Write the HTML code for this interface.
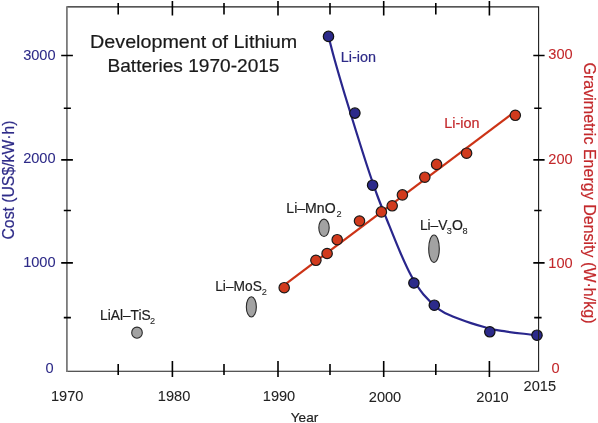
<!DOCTYPE html>
<html><head><meta charset="utf-8"><style>
html,body{margin:0;padding:0;background:#fff;width:598px;height:423px;overflow:hidden}
svg{display:block;will-change:transform}
text{font-family:"Liberation Sans",sans-serif}
</style></head><body>
<svg width="598" height="423" viewBox="0 0 598 423">
<rect width="598" height="423" fill="#fff"/>
<path d="M284.2,285.05 L515.3,111.4" stroke="#cc3316" stroke-width="2.2" fill="none"/>
<path d="M328.50,36.40 C330.57,44.27 331.97,50.23 334.70,60.00 C337.43,69.77 341.40,83.33 344.90,95.00 C348.40,106.67 352.05,118.33 355.70,130.00 C359.35,141.67 363.23,154.17 366.80,165.00 C370.37,175.83 373.73,185.83 377.10,195.00 C380.47,204.17 383.10,210.33 387.00,220.00 C390.90,229.67 396.42,243.62 400.50,253.00 C404.58,262.38 407.67,269.38 411.50,276.30 C415.33,283.22 418.85,288.95 423.50,294.50 C428.15,300.05 434.42,305.90 439.40,309.60 C444.38,313.30 448.13,314.45 453.40,316.70 C458.67,318.95 465.73,321.35 471.00,323.10 C476.27,324.85 480.17,325.93 485.00,327.20 C489.83,328.47 491.33,329.35 500.00,330.70 C508.67,332.05 524.67,333.77 537.00,335.30" stroke="#29268c" stroke-width="2.2" fill="none" stroke-linecap="round"/>
<circle cx="328.5" cy="36.4" r="5.2" fill="#2c2a8a" stroke="#111" stroke-width="1.2"/>
<circle cx="354.9" cy="113.1" r="5.2" fill="#2c2a8a" stroke="#111" stroke-width="1.2"/>
<circle cx="372.6" cy="185.2" r="5.2" fill="#2c2a8a" stroke="#111" stroke-width="1.2"/>
<circle cx="413.9" cy="283.0" r="5.2" fill="#2c2a8a" stroke="#111" stroke-width="1.2"/>
<circle cx="434.3" cy="305.2" r="5.2" fill="#2c2a8a" stroke="#111" stroke-width="1.2"/>
<circle cx="489.8" cy="331.8" r="5.2" fill="#2c2a8a" stroke="#111" stroke-width="1.2"/>
<circle cx="537.0" cy="335.2" r="5.2" fill="#2c2a8a" stroke="#111" stroke-width="1.2"/>
<circle cx="284.2" cy="287.7" r="5.2" fill="#d13a1d" stroke="#1a1a1a" stroke-width="1.2"/>
<circle cx="315.9" cy="260.3" r="5.2" fill="#d13a1d" stroke="#1a1a1a" stroke-width="1.2"/>
<circle cx="327.1" cy="253.5" r="5.2" fill="#d13a1d" stroke="#1a1a1a" stroke-width="1.2"/>
<circle cx="337.2" cy="239.7" r="5.2" fill="#d13a1d" stroke="#1a1a1a" stroke-width="1.2"/>
<circle cx="359.5" cy="221.0" r="5.2" fill="#d13a1d" stroke="#1a1a1a" stroke-width="1.2"/>
<circle cx="381.4" cy="211.9" r="5.2" fill="#d13a1d" stroke="#1a1a1a" stroke-width="1.2"/>
<circle cx="392.2" cy="205.8" r="5.2" fill="#d13a1d" stroke="#1a1a1a" stroke-width="1.2"/>
<circle cx="402.4" cy="194.9" r="5.2" fill="#d13a1d" stroke="#1a1a1a" stroke-width="1.2"/>
<circle cx="424.8" cy="177.2" r="5.2" fill="#d13a1d" stroke="#1a1a1a" stroke-width="1.2"/>
<circle cx="436.6" cy="164.4" r="5.2" fill="#d13a1d" stroke="#1a1a1a" stroke-width="1.2"/>
<circle cx="466.6" cy="153.2" r="5.2" fill="#d13a1d" stroke="#1a1a1a" stroke-width="1.2"/>
<circle cx="515.3" cy="115.3" r="5.2" fill="#d13a1d" stroke="#1a1a1a" stroke-width="1.2"/>
<ellipse cx="137.00" cy="332.70" rx="5.30" ry="5.60" fill="#a2a2a2" stroke="#2a2a2a" stroke-width="1.1"/>
<ellipse cx="251.35" cy="306.90" rx="5.00" ry="10.10" fill="#a2a2a2" stroke="#2a2a2a" stroke-width="1.1"/>
<ellipse cx="324.00" cy="227.80" rx="5.20" ry="8.70" fill="#a2a2a2" stroke="#2a2a2a" stroke-width="1.1"/>
<ellipse cx="434.00" cy="248.70" rx="5.30" ry="13.70" fill="#a2a2a2" stroke="#2a2a2a" stroke-width="1.1"/>
<path d="M66.9,6.9 H538.6 V371.3 H66.9" fill="none" stroke="#1e1e1e" stroke-width="1.1"/>
<line x1="66.9" y1="6.3" x2="66.9" y2="371.9" stroke="#7a7a7a" stroke-width="1.8"/>
<path d="M172.4,361 V377 M172.4,1 V15.5 M278.0,361 V377 M278.0,1 V15.5 M383.7,361 V377 M383.7,1 V15.5 M489.4,361 V377 M489.4,1 V15.5 M118.2,364 V375 M118.2,3 V14.4 M224.0,364 V375 M224.0,3 V14.4 M330.0,364 V375 M330.0,3 V14.4 M435.8,364 V375 M435.8,3 V14.4 M61.2,55.5 H72.9 M533.3,55.5 H544.6 M61.2,159.9 H72.9 M533.3,159.9 H544.6 M61.2,262.9 H72.9 M533.3,262.9 H544.6 M63.8,108.2 H70.9 M534.2,108.2 H541.6 M63.8,210.5 H70.9 M534.2,210.5 H541.6 M63.8,317.6 H70.9 M534.2,317.6 H541.6" stroke="#000" stroke-width="1.6" fill="none"/>
<text stroke="#2e2b88" stroke-width="0.08" x="55.60" y="59.80" font-size="14.60" fill="#2e2b88" text-anchor="end" font-family="Liberation Sans, sans-serif" >3000</text>
<text stroke="#2e2b88" stroke-width="0.08" x="55.60" y="163.00" font-size="14.60" fill="#2e2b88" text-anchor="end" font-family="Liberation Sans, sans-serif" >2000</text>
<text stroke="#2e2b88" stroke-width="0.08" x="55.60" y="266.60" font-size="14.60" fill="#2e2b88" text-anchor="end" font-family="Liberation Sans, sans-serif" >1000</text>
<text stroke="#2e2b88" stroke-width="0.08" x="53.60" y="373.00" font-size="14.60" fill="#2e2b88" text-anchor="end" font-family="Liberation Sans, sans-serif" >0</text>
<text stroke="#c3282b" stroke-width="0.08" x="548.30" y="58.80" font-size="14.60" fill="#c3282b" text-anchor="start" font-family="Liberation Sans, sans-serif" >300</text>
<text stroke="#c3282b" stroke-width="0.08" x="548.30" y="164.00" font-size="14.60" fill="#c3282b" text-anchor="start" font-family="Liberation Sans, sans-serif" >200</text>
<text stroke="#c3282b" stroke-width="0.08" x="548.30" y="267.60" font-size="14.60" fill="#c3282b" text-anchor="start" font-family="Liberation Sans, sans-serif" >100</text>
<text stroke="#c3282b" stroke-width="0.08" x="551.60" y="372.90" font-size="14.60" fill="#c3282b" text-anchor="start" font-family="Liberation Sans, sans-serif" >0</text>
<text stroke="#222" stroke-width="0.08" x="67.15" y="401.40" font-size="14.60" fill="#222" text-anchor="middle" font-family="Liberation Sans, sans-serif" >1970</text>
<text stroke="#222" stroke-width="0.08" x="174.10" y="401.40" font-size="14.60" fill="#222" text-anchor="middle" font-family="Liberation Sans, sans-serif" >1980</text>
<text stroke="#222" stroke-width="0.08" x="279.00" y="401.40" font-size="14.60" fill="#222" text-anchor="middle" font-family="Liberation Sans, sans-serif" >1990</text>
<text stroke="#222" stroke-width="0.08" x="385.00" y="402.20" font-size="14.60" fill="#222" text-anchor="middle" font-family="Liberation Sans, sans-serif" >2000</text>
<text stroke="#222" stroke-width="0.08" x="492.50" y="402.20" font-size="14.60" fill="#222" text-anchor="middle" font-family="Liberation Sans, sans-serif" >2010</text>
<text stroke="#222" stroke-width="0.08" x="539.80" y="390.90" font-size="14.60" fill="#222" text-anchor="middle" font-family="Liberation Sans, sans-serif" >2015</text>
<text stroke="#222" stroke-width="0.20" x="304.50" y="421.70" font-size="13.60" fill="#222" text-anchor="middle" font-family="Liberation Sans, sans-serif" >Year</text>
<text stroke="#1a1a1a" stroke-width="0.20" x="193.60" y="48.10" font-size="18.40" fill="#1a1a1a" text-anchor="middle" textLength="207.0" lengthAdjust="spacingAndGlyphs" font-family="Liberation Sans, sans-serif" >Development of Lithium</text>
<text stroke="#1a1a1a" stroke-width="0.20" x="193.50" y="72.30" font-size="18.40" fill="#1a1a1a" text-anchor="middle" textLength="172.0" lengthAdjust="spacingAndGlyphs" font-family="Liberation Sans, sans-serif" >Batteries 1970-2015</text>
<text stroke="#2e2b88" stroke-width="0.20" x="340.80" y="61.80" font-size="14.40" fill="#2e2b88" text-anchor="start" font-family="Liberation Sans, sans-serif" >Li-ion</text>
<text stroke="#c3282b" stroke-width="0.20" x="444.20" y="127.60" font-size="14.40" fill="#c3282b" text-anchor="start" font-family="Liberation Sans, sans-serif" >Li-ion</text>
<text stroke="#1e1e1e" stroke-width="0.20" x="286.30" y="212.90" font-size="14.20" fill="#1e1e1e" textLength="49.3" lengthAdjust="spacingAndGlyphs" font-family="Liberation Sans, sans-serif">Li&#8211;MnO</text>
<text stroke="#1e1e1e" stroke-width="0.08" x="336.60" y="216.80" font-size="9.20" fill="#1e1e1e" font-family="Liberation Sans, sans-serif">2</text>
<text stroke="#1e1e1e" stroke-width="0.20" x="215.20" y="291.00" font-size="14.00" fill="#1e1e1e" textLength="46.7" lengthAdjust="spacingAndGlyphs" font-family="Liberation Sans, sans-serif">Li&#8211;MoS</text>
<text stroke="#1e1e1e" stroke-width="0.08" x="261.80" y="294.80" font-size="9.20" fill="#1e1e1e" font-family="Liberation Sans, sans-serif">2</text>
<text stroke="#1e1e1e" stroke-width="0.20" x="100.10" y="319.80" font-size="14.00" fill="#1e1e1e" textLength="50.6" lengthAdjust="spacingAndGlyphs" font-family="Liberation Sans, sans-serif">LiAl&#8211;TiS</text>
<text stroke="#1e1e1e" stroke-width="0.08" x="149.90" y="323.80" font-size="9.20" fill="#1e1e1e" font-family="Liberation Sans, sans-serif">2</text>
<text stroke="#1e1e1e" stroke-width="0.20" x="419.90" y="229.80" font-size="14.00" fill="#1e1e1e" textLength="27.6" lengthAdjust="spacingAndGlyphs" font-family="Liberation Sans, sans-serif">Li&#8211;V</text>
<text stroke="#1e1e1e" stroke-width="0.08" x="446.70" y="233.50" font-size="9.20" fill="#1e1e1e" font-family="Liberation Sans, sans-serif">3</text>
<text stroke="#1e1e1e" stroke-width="0.20" x="452.00" y="229.80" font-size="14.00" fill="#1e1e1e" font-family="Liberation Sans, sans-serif">O</text>
<text stroke="#1e1e1e" stroke-width="0.08" x="462.40" y="233.50" font-size="9.20" fill="#1e1e1e" font-family="Liberation Sans, sans-serif">8</text>
<text stroke="#2e2b88" stroke-width="0.20" transform="translate(13.8,180) rotate(-90)" font-size="16" fill="#2e2b88" text-anchor="middle" textLength="119" lengthAdjust="spacingAndGlyphs" font-family="Liberation Sans, sans-serif">Cost (US$/kW&#183;h)</text>
<text stroke="#c3282b" stroke-width="0.20" transform="translate(584.2,193) rotate(90)" font-size="16.4" fill="#c3282b" text-anchor="middle" textLength="261" lengthAdjust="spacingAndGlyphs" font-family="Liberation Sans, sans-serif">Gravimetric Energy Density (W&#183;h/kg)</text>
</svg>
</body></html>
